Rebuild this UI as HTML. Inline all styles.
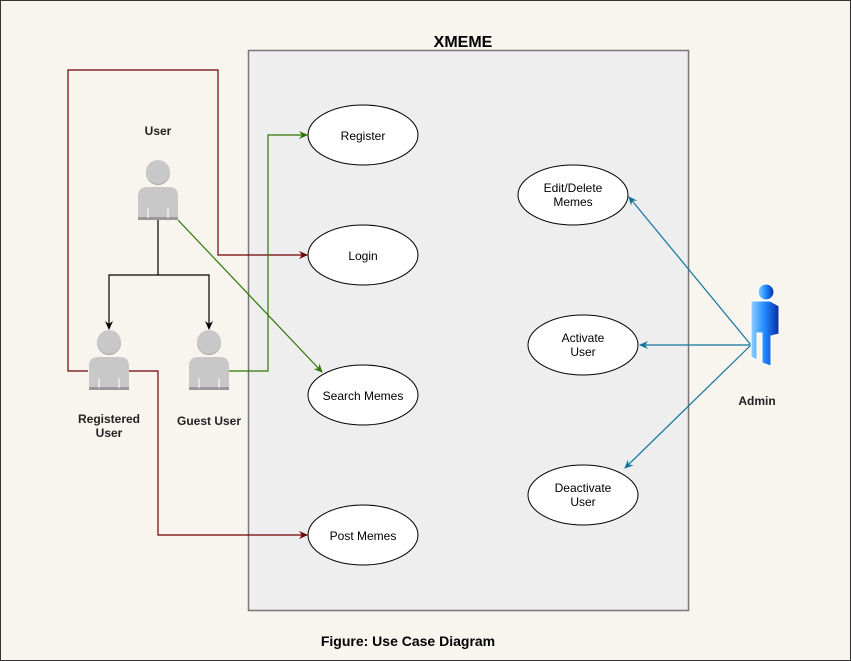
<!DOCTYPE html>
<html><head><style>
body{margin:0;background:#fff}
svg{display:block}
text{font-family:"Liberation Sans",Arial,sans-serif}
</style></head><body>
<svg width="851" height="661" viewBox="0 0 851 661" xmlns="http://www.w3.org/2000/svg">
<defs>
<marker id="ar" markerWidth="10" markerHeight="10" refX="8" refY="5" orient="auto" markerUnits="userSpaceOnUse"><path d="M0,1 L9,5 L0,9 L3,5 Z" fill="#6f0000"/></marker>
<marker id="ag" markerWidth="10" markerHeight="10" refX="8" refY="5" orient="auto" markerUnits="userSpaceOnUse"><path d="M0,1 L9,5 L0,9 L3,5 Z" fill="#2d7600"/></marker>
<marker id="ak" markerWidth="10" markerHeight="10" refX="8" refY="5" orient="auto" markerUnits="userSpaceOnUse"><path d="M0,1 L9,5 L0,9 L3,5 Z" fill="#000"/></marker>
<marker id="ab" markerWidth="10" markerHeight="10" refX="8" refY="5" orient="auto" markerUnits="userSpaceOnUse"><path d="M0,1 L9,5 L0,9 L3,5 Z" fill="#10739e"/></marker>
<linearGradient id="bl" x1="0" x2="1"><stop offset="0" stop-color="#8fd0ff"/><stop offset="0.5" stop-color="#1e88ff"/><stop offset="1" stop-color="#0a2aa0"/></linearGradient>
<g id="usr">
<circle cx="0" cy="13" r="12" fill="#a3a3a3"/><circle cx="0" cy="12" r="12" fill="#c8c8c8"/>
<path d="M-20,60 L-20,36 Q-20,27 -11,27 L11,27 Q20,27 20,36 L20,60 Z" fill="#c8c8c8"/>
<rect x="-20" y="57" width="40" height="3" fill="#999"/>
<line x1="-10" y1="48" x2="-10" y2="58" stroke="#fff" stroke-width="1"/><line x1="10" y1="48" x2="10" y2="58" stroke="#fff" stroke-width="1"/>
</g>
</defs>
<rect x="0.5" y="0.5" width="850" height="660" fill="#f8f5ee" stroke="#333"/>
<rect x="248.5" y="50.5" width="440" height="560" fill="#eeeeee" stroke="#777" stroke-width="1.5"/>
<text x="463" y="47" font-size="16" font-weight="bold" text-anchor="middle">XMEME</text>
<g fill="#fff" stroke="#000" stroke-width="1">
<ellipse cx="363" cy="135" rx="55" ry="30"/><ellipse cx="363" cy="255" rx="55" ry="30"/>
<ellipse cx="363" cy="395" rx="55" ry="30"/><ellipse cx="363" cy="535" rx="55" ry="30"/>
<ellipse cx="573" cy="195" rx="55" ry="30"/><ellipse cx="583" cy="345" rx="55" ry="30"/>
<ellipse cx="583" cy="495" rx="55" ry="30"/>
</g>
<g font-size="12" text-anchor="middle">
<text x="363" y="140">Register</text><text x="363" y="260">Login</text>
<text x="363" y="400">Search Memes</text><text x="363" y="540">Post Memes</text>
<text x="573" y="192">Edit/Delete</text><text x="573" y="206">Memes</text>
<text x="583" y="342">Activate</text><text x="583" y="356">User</text>
<text x="583" y="492">Deactivate</text><text x="583" y="506">User</text>
</g>
<g fill="none" stroke-width="1.2">
<path d="M88,371 H68 V70 H218 V255 H307" stroke="#6f0000" marker-end="url(#ar)"/>
<path d="M129,371 H158 V535 H307" stroke="#6f0000" marker-end="url(#ar)"/>
<path d="M229,371 H268 V135 H307" stroke="#2d7600" marker-end="url(#ag)"/>
<path d="M178,220 L322,372" stroke="#2d7600" marker-end="url(#ag)"/>
<path d="M158,220 V275 H109 V329" stroke="#000" marker-end="url(#ak)"/>
<path d="M158,275 H209 V329" stroke="#000" marker-end="url(#ak)"/>
<path d="M751,345 L629,197" stroke="#10739e" marker-end="url(#ab)"/>
<path d="M751,345 H640" stroke="#10739e" marker-end="url(#ab)"/>
<path d="M751,345 L625,468" stroke="#10739e" marker-end="url(#ab)"/>
</g>
<use href="#usr" x="158" y="160"/>
<use href="#usr" x="109" y="330"/>
<use href="#usr" x="209" y="330"/>
<g>
<circle cx="766" cy="292" r="8" fill="url(#bl)" stroke="#fff"/>
<path d="M751,301 L770,301 L779,306 L779,334 L771,336 L771,366 L762,363 L762,333 L757,333 L757,360 L751,357 Z" fill="url(#bl)" stroke="#fff" stroke-width="1"/>
</g>
<g font-size="12" font-weight="bold" text-anchor="middle" fill="#222">
<text x="158" y="135">User</text>
<text x="109" y="423">Registered</text><text x="109" y="437">User</text>
<text x="209" y="425">Guest User</text>
<text x="757" y="405">Admin</text>
</g>
<text x="408" y="646" font-size="14" font-weight="bold" text-anchor="middle">Figure: Use Case Diagram</text>
</svg>
</body></html>
